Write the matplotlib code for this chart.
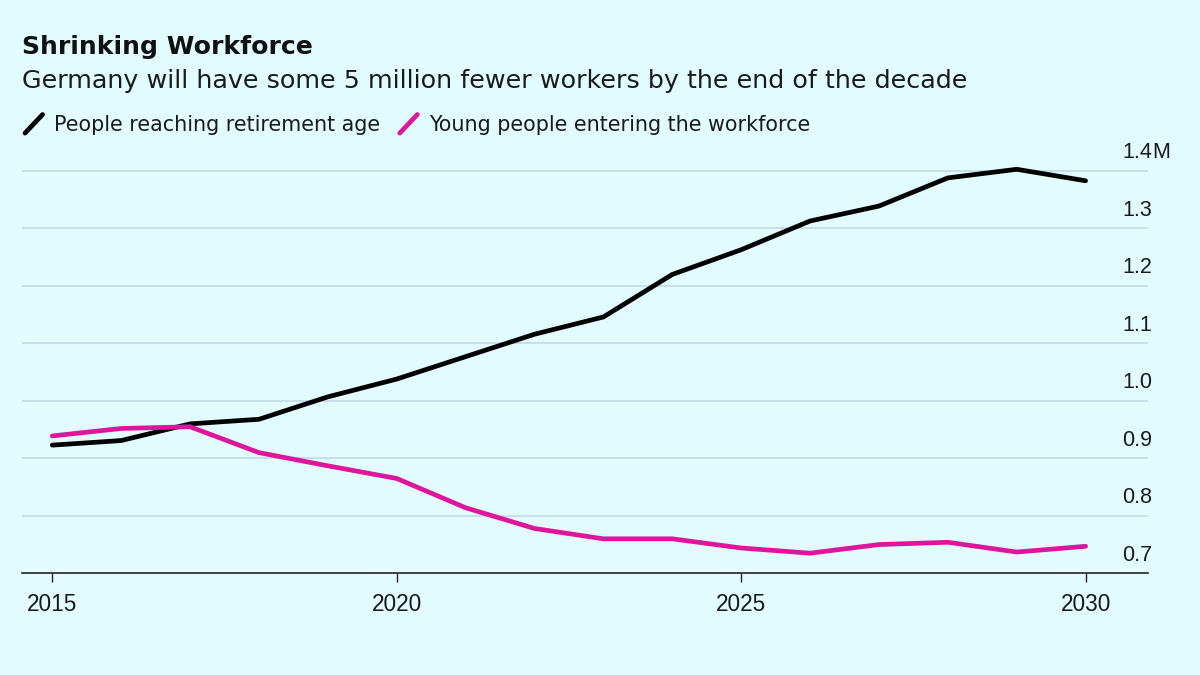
import matplotlib
matplotlib.use("Agg")
import matplotlib.pyplot as plt
from matplotlib.lines import Line2D
from matplotlib.legend_handler import HandlerBase
from matplotlib.transforms import ScaledTranslation, blended_transform_factory

# ---- data ----
years = list(range(2015, 2031))
retirement = [0.923, 0.931, 0.960, 0.968, 1.007, 1.038, 1.077, 1.116,
              1.146, 1.220, 1.263, 1.313, 1.339, 1.388, 1.403, 1.383]
young = [0.939, 0.952, 0.955, 0.910, 0.887, 0.865, 0.814, 0.778,
         0.760, 0.760, 0.744, 0.735, 0.750, 0.754, 0.737, 0.747]
series_names = ["People reaching retirement age", "Young people entering the workforce"]
x_ticks = [2015, 2020, 2025, 2030]
y_ticks = [0.7, 0.8, 0.9, 1.0, 1.1, 1.2, 1.3, 1.4]
y_ticklabels = ["0.7", "0.8", "0.9", "1.0", "1.1", "1.2", "1.3", "1.4"]

title = "Shrinking Workforce"
subtitle = "Germany will have some 5 million fewer workers by the end of the decade"

# ---- style ----
BG = "#e2fbff"
GRID = "#c6dbe9"
PINK = "#df169c"
BLACK = "#000000"
TXT = "#1a1a1a"
TICKFONT = ["Liberation Sans", "DejaVu Sans"]
HEADFONT = ["DejaVu Sans"]
plt.rcParams["font.family"] = TICKFONT

W, H = 1200, 675
fig = plt.figure(figsize=(12, 6.75), dpi=100, facecolor=BG)

ax_left, ax_right = 22, 1148
ax_bottom_px = 573.3
ylo, yhi = 0.7, 1.42
px_per_unit = 574.7
ax_top_px = ax_bottom_px - (yhi - ylo) * px_per_unit
ax = fig.add_axes([ax_left / W, 1 - ax_bottom_px / H,
                   (ax_right - ax_left) / W, (ax_bottom_px - ax_top_px) / H])
ax.set_facecolor(BG)

ax.plot(years, retirement, color=BLACK, lw=3.4, solid_joinstyle="miter",
        solid_capstyle="round", label=series_names[0], zorder=3)
ax.plot(years, young, color=PINK, lw=3.4, solid_joinstyle="miter",
        solid_capstyle="round", label=series_names[1], zorder=3)

# x-axis
px_per_year = (1085.6 - 52.3) / 15
ax.set_xlim(2015 - (52.3 - ax_left) / px_per_year, 2030 + (ax_right - 1085.6) / px_per_year)
ax.set_ylim(ylo, yhi)
ax.set_xticks(x_ticks)
ax.set_xticklabels([str(t) for t in x_ticks])
ax.tick_params(axis="x", direction="out", length=6.5, width=1.0, color="#222222",
               labelsize=16.3, labelcolor=TXT, pad=8)

# y-axis on right with labels sitting above gridlines
ax.yaxis.tick_right()
ax.set_yticks(y_ticks)
ax.set_yticklabels(y_ticklabels)
ax.tick_params(axis="y", length=0, labelsize=15.5, labelcolor=TXT, pad=0)
offset = ScaledTranslation(4 / 100, 12.7 / 100, fig.dpi_scale_trans)
for lab in ax.get_yticklabels():
    lab.set_horizontalalignment("right")
    lab.set_verticalalignment("baseline")
    lab.set_transform(lab.get_transform() + offset)
ax.text(1.0, y_ticks[-1], "M", transform=blended_transform_factory(ax.transAxes, ax.transData) + offset,
        ha="left", va="baseline", fontsize=15.5, color=TXT)

for yv in y_ticks[1:]:
    ax.axhline(yv, color=GRID, lw=1.3, zorder=1)

for s in ["top", "right", "left"]:
    ax.spines[s].set_visible(False)
ax.spines["bottom"].set_color("#222222")
ax.spines["bottom"].set_linewidth(1.2)


# legend with slash-style handles
class SlashHandler(HandlerBase):
    def create_artists(self, legend, orig_handle, xdescent, ydescent, width, height, fontsize, trans):
        ln = Line2D([-xdescent, -xdescent + width], [-ydescent - 1, -ydescent + height + 1],
                    color=orig_handle.get_color(), lw=3.4, solid_capstyle="round", transform=trans)
        return [ln]


handles, labels = ax.get_legend_handles_labels()
fig.legend(handles, labels, handler_map={Line2D: SlashHandler()},
           loc="center left", bbox_to_anchor=(25 / W, 1 - 125 / H), ncol=2,
           frameon=False, prop={"family": HEADFONT, "size": 14.9},
           handlelength=0.85, handleheight=0.8,
           handletextpad=0.55, columnspacing=0.95, borderpad=0, borderaxespad=0,
           labelcolor=TXT)

fig.text(22 / W, 1 - 54.3 / H, title, fontsize=18.1, fontweight="bold", color="#111111",
         ha="left", va="baseline", family=HEADFONT)
fig.text(22 / W, 1 - 88 / H, subtitle, fontsize=18.3, color=TXT,
         ha="left", va="baseline", family=HEADFONT)

fig.savefig("out.png", dpi=100, facecolor=BG)
